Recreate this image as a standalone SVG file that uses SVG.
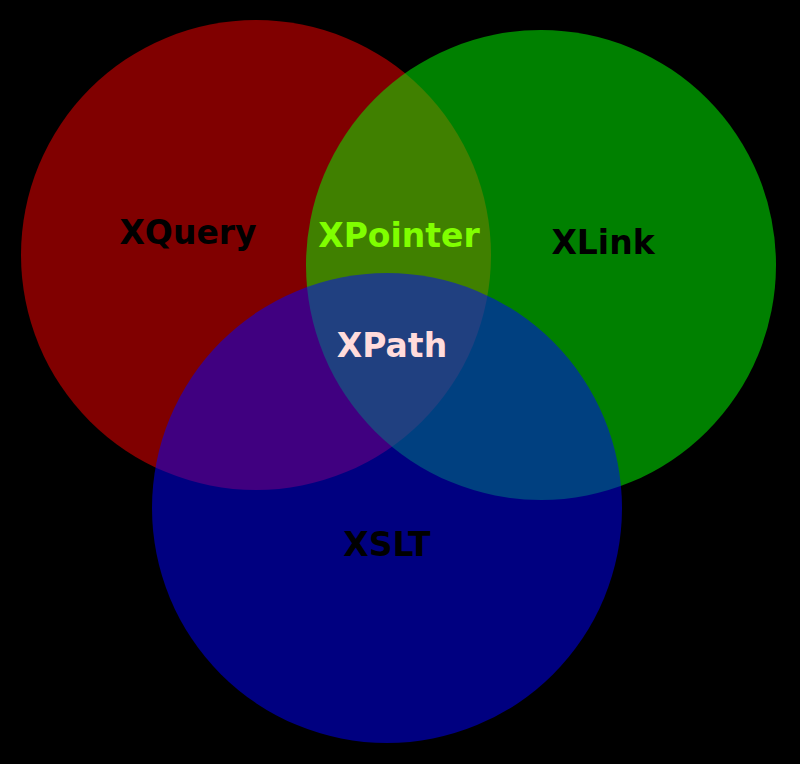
<svg xmlns="http://www.w3.org/2000/svg" width="800" height="764" viewBox="0 0 800 764">
<style>
.c{opacity:0.5}
.t{font-family:"DejaVu Sans",sans-serif;font-weight:bold;font-size:33px;text-anchor:middle}
</style>
<rect width="800" height="764" fill="#000"/>
<g id="xquery"><circle class="c" cx="256" cy="255" r="235" fill="#ff0000"/></g>
<g id="xlink"><circle class="c" cx="541" cy="265" r="235" fill="#00ff00"/></g>
<g id="xslt"><circle class="c" cx="387" cy="508" r="235" fill="#0000ff"/></g>
<g id="connectors"></g>
<g id="labels">
<text class="t" x="188" y="244" fill="#000">XQuery</text>
<text class="t" x="399" y="247" fill="#80ff00">XPointer</text>
<text class="t" x="603" y="254" fill="#000">XLink</text>
<text class="t" x="392" y="357" fill="#ffdcdc">XPath</text>
<text class="t" x="387" y="556" fill="#000">XSLT</text>
</g>
</svg>
